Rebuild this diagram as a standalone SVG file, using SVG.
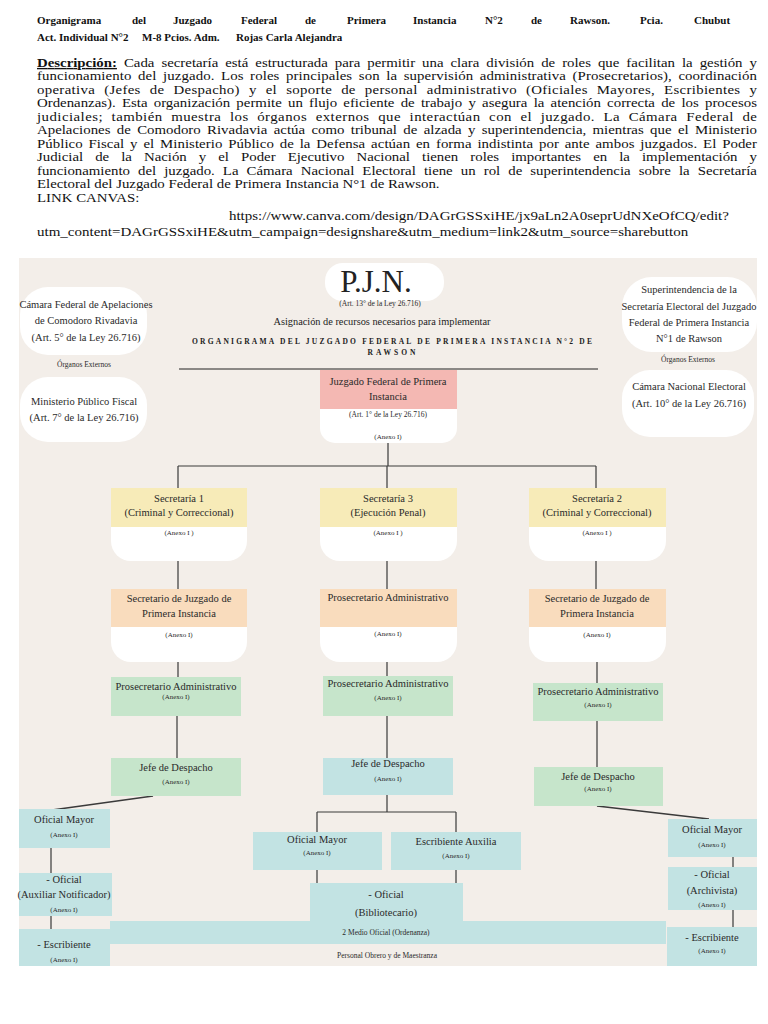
<svg xmlns="http://www.w3.org/2000/svg" width="768" height="1024" viewBox="0 0 768 1024">
<style>
.hd{font-family:"Liberation Serif",serif;font-weight:bold;font-size:11px;fill:#111}
.ds{font-family:"Liberation Serif",serif;font-size:13.5px;fill:#111}
.lb{font-family:"Liberation Serif",serif;font-size:10.5px;fill:#2a2a2a;text-anchor:middle}
.sm{font-family:"Liberation Serif",serif;font-size:7px;fill:#2a2a2a;text-anchor:middle}
.ar{font-family:"Liberation Serif",serif;font-size:7.5px;fill:#2a2a2a;text-anchor:middle}
.ln{stroke:#3a3a3a;stroke-width:1.2;fill:none}
.wh{fill:#ffffff}
.ye{fill:#f7ebb8}
.pe{fill:#f9dcbd}
.gr{fill:#c6e5cb}
.te{fill:#c2e3e3}
.pk{fill:#f4b8b3}
</style>
<rect width="768" height="1024" fill="#ffffff"/>
<g id="header">
<text class="hd" y="24"><tspan x="37">Organigrama</tspan><tspan x="132">del</tspan><tspan x="173">Juzgado</tspan><tspan x="241">Federal</tspan><tspan x="305">de</tspan><tspan x="347">Primera</tspan><tspan x="413">Instancia</tspan><tspan x="485">N°2</tspan><tspan x="531">de</tspan><tspan x="570">Rawson.</tspan><tspan x="640">Pcia.</tspan><tspan x="694">Chubut</tspan></text>
<text class="hd" x="37" y="41">Act. Individual N°2</text>
<text class="hd" x="142" y="41">M-8 Pcios. Adm.</text>
<text class="hd" x="236" y="41">Rojas Carla Alejandra</text>
</g>
<g id="description" transform="matrix(1.10,0,0,1,-3.7,0)">
<text class="ds" x="37" y="67" word-spacing="3" textLength="654.5" lengthAdjust="spacing"><tspan font-weight="bold" text-decoration="underline">Descripción:</tspan> Cada secretaría está estructurada para permitir una clara división de roles que facilitan la gestión y</text>
<text class="ds" x="37" y="80.5" word-spacing="2.5" textLength="654.5" lengthAdjust="spacing">funcionamiento del juzgado. Los roles principales son la supervisión administrativa (Prosecretarios), coordinación</text>
<text class="ds" x="37" y="94" word-spacing="4.6" textLength="654.5" lengthAdjust="spacing">operativa (Jefes de Despacho) y el soporte de personal administrativo (Oficiales Mayores, Escribientes y</text>
<text class="ds" x="37" y="107.5" word-spacing="2.3" textLength="654.5" lengthAdjust="spacing">Ordenanzas). Esta organización permite un flujo eficiente de trabajo y asegura la atención correcta de los procesos</text>
<text class="ds" x="37" y="121" word-spacing="4" textLength="654.5" lengthAdjust="spacing">judiciales; también muestra  los órganos externos que interactúan con el juzgado. La Cámara Federal de</text>
<text class="ds" x="37" y="134.5" word-spacing="2.4" textLength="654.5" lengthAdjust="spacing">Apelaciones de Comodoro Rivadavia actúa como tribunal de alzada y superintendencia, mientras que el Ministerio</text>
<text class="ds" x="37" y="148" word-spacing="1.9" textLength="654.5" lengthAdjust="spacing">Público Fiscal y el Ministerio Público de la Defensa actúan en forma indistinta por ante ambos juzgados. El Poder</text>
<text class="ds" x="37" y="161.5" word-spacing="7.6" textLength="654.5" lengthAdjust="spacing">Judicial de la Nación y el Poder Ejecutivo Nacional tienen roles importantes en la implementación y</text>
<text class="ds" x="37" y="175" word-spacing="4" textLength="654.5" lengthAdjust="spacing">funcionamiento del juzgado. La Cámara Nacional Electoral tiene un rol de superintendencia sobre la Secretaría</text>
<text class="ds" x="37" y="188.5">Electoral del Juzgado Federal de Primera Instancia N°1 de Rawson.</text>
<text class="ds" x="37" y="202">LINK CANVAS:</text>
<text class="ds" x="211.5" y="220" textLength="454.5" lengthAdjust="spacingAndGlyphs">https://www.canva.com/design/DAGrGSSxiHE/jx9aLn2A0seprUdNXeOfCQ/edit?</text>
<text class="ds" x="37" y="236" textLength="592" lengthAdjust="spacingAndGlyphs">utm_content=DAGrGSSxiHE&amp;utm_campaign=designshare&amp;utm_medium=link2&amp;utm_source=sharebutton</text>
</g>
<rect x="19" y="258" width="738" height="708" fill="#f3eee9"/>
<g id="pjn">
<rect x="325" y="263" width="119" height="38" rx="18" class="wh"/>
<text x="376" y="292" font-family="Liberation Serif,serif" font-size="31" fill="#222" text-anchor="middle">P.J.N.</text>
<text class="ar" x="380" y="306">(Art. 13° de la Ley 26.716)</text>
<text x="382" y="325" font-family="Liberation Serif,serif" font-size="9.5" fill="#222" text-anchor="middle" textLength="217" lengthAdjust="spacingAndGlyphs">Asignación de recursos necesarios para implementar</text>
<text x="192" y="344" font-family="Liberation Serif,serif" font-size="7.5" font-weight="bold" fill="#222" textLength="400" lengthAdjust="spacing">ORGANIGRAMA DEL JUZGADO FEDERAL DE PRIMERA INSTANCIA N°2 DE</text>
<text x="393" y="355" font-family="Liberation Serif,serif" font-size="7.5" font-weight="bold" fill="#222" text-anchor="middle" letter-spacing="3">RAWSON</text>
<line x1="179" y1="369" x2="598" y2="369" stroke="#222" stroke-width="1"/>
</g>
<g id="ext-camara-federal">
<rect x="20" y="287" width="127" height="68" rx="28" class="wh"/>
<text class="lb" x="86" y="308">Cámara Federal de Apelaciones</text>
<text class="lb" x="86" y="324">de Comodoro Rivadavia</text>
<text class="lb" x="86" y="341">(Art. 5° de la Ley 26.716)</text>
</g>
<text class="ar" x="84" y="367">Órganos Externos</text>
<g id="ext-ministerio">
<rect x="20" y="377" width="127" height="65" rx="28" class="wh"/>
<text class="lb" x="84" y="405">Ministerio Público Fiscal</text>
<text class="lb" x="84" y="421">(Art. 7° de la Ley 26.716)</text>
</g>
<g id="ext-superintendencia">
<rect x="622" y="277" width="135" height="75" rx="30" class="wh"/>
<text class="lb" x="689" y="293">Superintendencia de la</text>
<text class="lb" x="689" y="310">Secretaría Electoral del Juzgado</text>
<text class="lb" x="689" y="326">Federal de Primera Instancia</text>
<text class="lb" x="689" y="342">N°1 de Rawson</text>
</g>
<text class="ar" x="688" y="362">Órganos Externos</text>
<g id="ext-camara-nacional">
<rect x="622" y="370" width="132" height="67" rx="28" class="wh"/>
<text class="lb" x="689" y="390">Cámara Nacional Electoral</text>
<text class="lb" x="689" y="407">(Art. 10° de la Ley 26.716)</text>
</g>
<g id="connectors" class="ln">
<path d="M388,443 V466 M178,466 H596 M178,466 V488 M387,466 V488 M596,466 V488"/>
<path d="M178,561 V589 M387,561 V589 M596,561 V589"/>
<path d="M178,662 V677 M387,662 V676 M597,662 V683"/>
<path d="M177,716 V758 M387,716 V758 M597,721 V767"/>
<path d="M153,796 L52,810" stroke-width="1.6"/>
<path d="M597,806 L709,819" stroke-width="1.6"/>
<path d="M387,795 V812 M317,812 H456 M317,812 V832 M456,812 V832"/>
<path d="M51,848 V873 M317,870 V883 M456,870 V883 M733,857 V867"/>
<path d="M51,916 V929 M733,910 V927"/>
</g>
<g id="juzgado">
<path class="wh" d="M320,409 H457 V428 A15,15 0 0 1 442,443 H335 A15,15 0 0 1 320,428 Z"/>
<rect x="320" y="370" width="137" height="39" class="pk"/>
<text class="lb" x="388" y="385">Juzgado Federal de Primera</text>
<text class="lb" x="388" y="400">Instancia</text>
<text class="ar" x="388" y="417">(Art. 1° de la Ley 26.716)</text>
<text class="sm" x="388" y="439">(Anexo I)</text>
</g>
<g id="secretaria-1">
<path class="wh" d="M111,527 H247 V541 A20,20 0 0 1 227,561 H131 A20,20 0 0 1 111,541 Z"/>
<rect x="111" y="488" width="136" height="39" class="ye"/>
<text class="lb" x="179" y="502">Secretaría 1</text>
<text class="lb" x="179" y="516">(Criminal y Correccional)</text>
<text class="sm" x="179" y="535">(Anexo I )</text>
</g>
<g id="secretaria-3">
<path class="wh" d="M320,527 H457 V541 A20,20 0 0 1 437,561 H340 A20,20 0 0 1 320,541 Z"/>
<rect x="320" y="488" width="137" height="39" class="ye"/>
<text class="lb" x="388" y="502">Secretaría 3</text>
<text class="lb" x="388" y="516">(Ejecución Penal)</text>
<text class="sm" x="388" y="535">(Anexo I )</text>
</g>
<g id="secretaria-2">
<path class="wh" d="M529,527 H666 V541 A20,20 0 0 1 646,561 H549 A20,20 0 0 1 529,541 Z"/>
<rect x="529" y="488" width="137" height="39" class="ye"/>
<text class="lb" x="597" y="502">Secretaría 2</text>
<text class="lb" x="597" y="516">(Criminal y Correccional)</text>
<text class="sm" x="597" y="535">(Anexo I )</text>
</g>
<g id="secretario-1">
<path class="wh" d="M111,627 H247 V642 A20,20 0 0 1 227,662 H131 A20,20 0 0 1 111,642 Z"/>
<rect x="111" y="589" width="136" height="38" class="pe"/>
<text class="lb" x="179" y="602">Secretario de Juzgado de</text>
<text class="lb" x="179" y="617">Primera Instancia</text>
<text class="sm" x="179" y="637">(Anexo I)</text>
</g>
<g id="prosecretario-3a">
<path class="wh" d="M320,627 H457 V642 A20,20 0 0 1 437,662 H340 A20,20 0 0 1 320,642 Z"/>
<rect x="320" y="589" width="137" height="38" class="pe"/>
<text class="lb" x="388" y="601">Prosecretario Administrativo</text>
<text class="sm" x="388" y="636">(Anexo I)</text>
</g>
<g id="secretario-2">
<path class="wh" d="M529,627 H666 V642 A20,20 0 0 1 646,662 H549 A20,20 0 0 1 529,642 Z"/>
<rect x="529" y="589" width="137" height="38" class="pe"/>
<text class="lb" x="597" y="602">Secretario de Juzgado de</text>
<text class="lb" x="597" y="617">Primera Instancia</text>
<text class="sm" x="597" y="637">(Anexo I)</text>
</g>
<g id="prosecretario-1">
<rect x="111" y="677" width="130" height="39" class="gr"/>
<text class="lb" x="176" y="690">Prosecretario Administrativo</text>
<text class="sm" x="176" y="699">(Anexo I)</text>
</g>
<g id="prosecretario-3b">
<rect x="323" y="676" width="130" height="40" class="gr"/>
<text class="lb" x="388" y="687">Prosecretario Administrativo</text>
<text class="sm" x="388" y="700">(Anexo I)</text>
</g>
<g id="prosecretario-2">
<rect x="533" y="683" width="130" height="38" class="gr"/>
<text class="lb" x="598" y="695">Prosecretario Administrativo</text>
<text class="sm" x="598" y="707">(Anexo I)</text>
</g>
<g id="jefe-1">
<rect x="111" y="758" width="130" height="38" class="gr"/>
<text class="lb" x="176" y="771">Jefe de Despacho</text>
<text class="sm" x="176" y="784">(Anexo I)</text>
</g>
<g id="jefe-3">
<rect x="323" y="758" width="130" height="37" class="te"/>
<text class="lb" x="388" y="767">Jefe de Despacho</text>
<text class="sm" x="388" y="781">(Anexo I)</text>
</g>
<g id="jefe-2">
<rect x="534" y="767" width="129" height="39" class="gr"/>
<text class="lb" x="598" y="780">Jefe de Despacho</text>
<text class="sm" x="598" y="791">(Anexo I)</text>
</g>
<g id="oficial-mayor-1">
<rect x="19" y="809" width="91" height="39" class="te"/>
<text class="lb" x="64" y="823">Oficial Mayor</text>
<text class="sm" x="64" y="837">(Anexo I)</text>
</g>
<g id="oficial-mayor-3">
<rect x="253" y="832" width="129" height="38" class="te"/>
<text class="lb" x="317" y="843">Oficial Mayor</text>
<text class="sm" x="317" y="855">(Anexo I)</text>
</g>
<g id="escribiente-auxilia">
<rect x="391" y="832" width="130" height="38" class="te"/>
<text class="lb" x="456" y="845">Escribiente Auxilia</text>
<text class="sm" x="456" y="858">(Anexo I)</text>
</g>
<g id="oficial-mayor-2">
<rect x="668" y="819" width="89" height="38" class="te"/>
<text class="lb" x="712" y="833">Oficial Mayor</text>
<text class="sm" x="712" y="847">(Anexo I)</text>
</g>
<g id="oficial-notificador">
<rect x="19" y="873" width="93" height="43" class="te"/>
<text class="lb" x="64" y="883">- Oficial</text>
<text class="lb" x="64" y="898">(Auxiliar Notificador)</text>
<text class="sm" x="64" y="912">(Anexo I)</text>
</g>
<g id="medio-oficial">
<rect x="110" y="921" width="556" height="23" class="te"/>
<text class="ar" x="386" y="935">2 Medio Oficial (Ordenanza)</text>
</g>
<g id="oficial-bibliotecario">
<rect x="310" y="883" width="153" height="39" class="te"/>
<text class="lb" x="386" y="898">- Oficial</text>
<text class="lb" x="386" y="916">(Bibliotecario)</text>
</g>
<g id="oficial-archivista">
<rect x="668" y="867" width="89" height="43" class="te"/>
<text class="lb" x="712" y="878">- Oficial</text>
<text class="lb" x="712" y="894">(Archivista)</text>
<text class="sm" x="712" y="907">(Anexo I)</text>
</g>
<g id="personal-obrero">
<text class="ar" x="387" y="958">Personal Obrero y de Maestranza</text>
</g>
<g id="escribiente-1">
<rect x="19" y="929" width="91" height="37" class="te"/>
<text class="lb" x="64" y="948">- Escribiente</text>
<text class="sm" x="64" y="962">(Anexo I)</text>
</g>
<g id="escribiente-2">
<rect x="667" y="927" width="90" height="39" class="te"/>
<text class="lb" x="712" y="941">- Escribiente</text>
<text class="sm" x="712" y="953">(Anexo I)</text>
</g>
</svg>
